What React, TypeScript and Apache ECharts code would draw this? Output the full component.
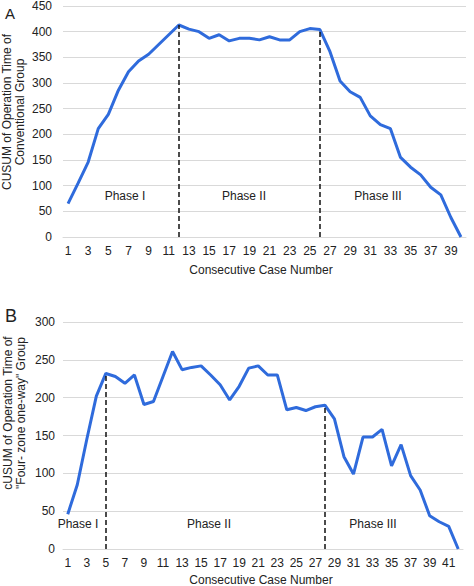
import React, { useEffect, useRef } from "react";
import * as echarts from "echarts";

const casesA = ["1","2","3","4","5","6","7","8","9","10","11","12","13","14","15","16","17","18","19","20","21","22","23","24","25","26","27","28","29","30","31","32","33","34","35","36","37","38","39","40"];
const cusumA = [65,105,146,211,239,286,322,343,356,375,394,413,405,400,387,394,382,387,387,384,390,384,384,400,406,404,361,304,283,272,236,219,211,155,136,121,97,82,38,0];
const phaseBreaksA = ["12","26"];

const casesB = ["1","2","3","4","5","6","7","8","9","10","11","12","13","14","15","16","17","18","19","20","21","22","23","24","25","26","27","28","29","30","31","32","33","34","35","36","37","38","39","40","41","42"];
const cusumB = [46,85,145,202,232,228,219,230,191,195,228,261,237,240,242,230,217,197,215,239,242,230,230,184,187,183,188,190,172,122,99,148,148,158,110,138,97,78,44,36,30,0];
const phaseBreaksB = ["5","28"];

const yTicksA = { min: 0, max: 450, interval: 50 };
const yTicksB = { min: 0, max: 300, interval: 50 };
const phaseNames = ["Phase I", "Phase II", "Phase III"];

const FONT = "'Liberation Sans', Arial, Helvetica, sans-serif";
const TXT = "#222";
const GRID = "#d9d9d9";
const BLUE = "#2f6bdc";

function breakLines(cats: string[], vals: number[], breaks: string[]) {
  return breaks.map((b) => {
    const i = cats.indexOf(b);
    return [{ coord: [b, 0] }, { coord: [b, vals[i]] }];
  });
}

export default function App() {
  const ref = useRef<HTMLDivElement>(null);
  useEffect(() => {
    document.body.style.margin = "0";
    const chart = echarts.init(ref.current!, null, { renderer: "svg" });
    const xAxisBase = (cats: string[], gridIndex: number) => ({
      type: "category",
      gridIndex,
      data: cats,
      boundaryGap: true,
      axisLine: { lineStyle: { color: GRID, width: 1 } },
      axisTick: { show: false },
      axisLabel: { interval: 1, color: TXT, fontSize: 12, fontFamily: FONT, margin: 8 },
    });
    const yAxisBase = (t: any, gridIndex: number, margin: number) => ({
      type: "value",
      gridIndex,
      min: t.min,
      max: t.max,
      interval: t.interval,
      axisLine: { show: false },
      axisTick: { show: false },
      splitLine: { lineStyle: { color: GRID, width: 1 } },
      axisLabel: { color: TXT, fontSize: 12, fontFamily: FONT, margin },
    });
    const markLineStyle = {
      silent: true,
      symbol: ["none", "none"],
      label: { show: false },
      lineStyle: { color: "#111", type: [5, 3], width: 1.5 },
    };
    const txt = (text: string, x: number, y: number, extra: any = {}) => ({
      type: "text",
      x,
      y,
      style: {
        text,
        fill: TXT,
        font: `12px ${FONT}`,
        align: "center",
        verticalAlign: "middle",
        ...extra,
      },
    });
    chart.setOption({
      animation: false,
      grid: [
        { left: 63, top: 6, width: 403, height: 231 },
        { left: 63, top: 322, width: 400, height: 227 },
      ],
      xAxis: [xAxisBase(casesA, 0), xAxisBase(casesB, 1)],
      yAxis: [yAxisBase(yTicksA, 0, 11), yAxisBase(yTicksB, 1, 8)],
      series: [
        {
          type: "line",
          xAxisIndex: 0,
          yAxisIndex: 0,
          data: cusumA,
          symbol: "none",
          lineStyle: { color: BLUE, width: 3 },
          markLine: { ...markLineStyle, data: breakLines(casesA, cusumA, phaseBreaksA) },
        },
        {
          type: "line",
          xAxisIndex: 1,
          yAxisIndex: 1,
          data: cusumB,
          symbol: "none",
          lineStyle: { color: BLUE, width: 3 },
          markLine: { ...markLineStyle, data: breakLines(casesB, cusumB, phaseBreaksB) },
        },
      ],
      graphic: [
        txt("A", 10, 13, { font: `15px ${FONT}` }),
        txt("B", 11, 316, { font: `18px ${FONT}` }),
        txt(phaseNames[0], 125, 196),
        txt(phaseNames[1], 244, 196),
        txt(phaseNames[2], 378, 196),
        txt(phaseNames[0], 78, 524),
        txt(phaseNames[1], 209, 524),
        txt(phaseNames[2], 373, 524),
        txt("Consecutive Case Number", 261, 270),
        txt("Consecutive Case Number", 261, 580),
        {
          type: "text",
          x: 13,
          y: 112,
          rotation: Math.PI / 2,
          style: {
            text: "CUSUM of Operation Time of\nConventional Group",
            fill: TXT,
            font: `12px ${FONT}`,
            align: "center",
            verticalAlign: "middle",
            lineHeight: 13,
          },
        },
        {
          type: "text",
          x: 14,
          y: 413,
          rotation: Math.PI / 2,
          style: {
            text: 'cUSUM of Operation Time of\n"Four- zone one-way" Group',
            fill: TXT,
            font: `12px ${FONT}`,
            align: "center",
            verticalAlign: "middle",
            lineHeight: 13,
          },
        },
      ],
    });
    return () => chart.dispose();
  }, []);
  return <div ref={ref} style={{ width: 474, height: 586 }} />;
}
